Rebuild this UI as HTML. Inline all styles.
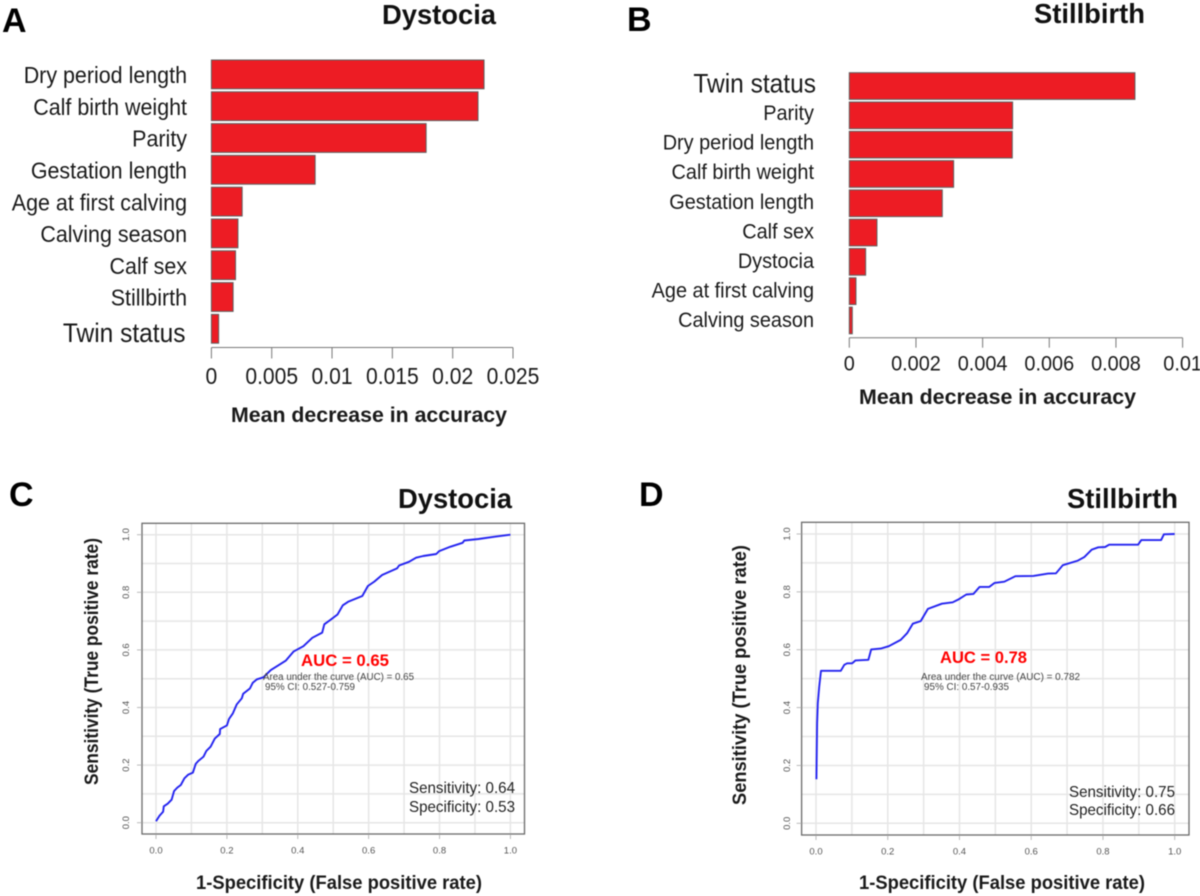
<!DOCTYPE html>
<html lang="en">
<head>
<meta charset="utf-8">
<title>Dystocia and stillbirth variable importance and ROC curves</title>
<style>
html,body{margin:0;padding:0;background:#fff;width:1200px;height:896px;overflow:hidden}
svg{display:block;filter:blur(0.4px)}
text{font-family:"Liberation Sans",Arial,sans-serif}
.letter{font-size:34px;font-weight:700;fill:#000}
.title{font-size:28px;font-weight:700;fill:#111}
.axt{font-size:21px;font-weight:700;fill:#1a1a1a}
.axr{font-size:19.5px;font-weight:700;fill:#1a1a1a}
.auc{font-size:17px;font-weight:700;fill:#ff0000}
.note{font-size:10px;fill:#444}
.stat{font-size:16px;fill:#222}
</style>
</head>
<body>
<svg id="figure" width="1200" height="896" viewBox="0 0 1200 896" xmlns="http://www.w3.org/2000/svg">
  <rect width="1200" height="896" fill="#fff"/>

  <text class="letter" x="2" y="32">A</text>
  <text class="title" x="382" y="24" textLength="114" lengthAdjust="spacingAndGlyphs">Dystocia</text>
  <g id="panelA"></g>
  <text class="axt" x="231" y="422" textLength="276" lengthAdjust="spacingAndGlyphs">Mean decrease in accuracy</text>

  <text class="letter" x="627" y="31">B</text>
  <text class="title" x="1034" y="23" textLength="111" lengthAdjust="spacingAndGlyphs">Stillbirth</text>
  <g id="panelB"></g>
  <text class="axt" x="859" y="404" textLength="277" lengthAdjust="spacingAndGlyphs">Mean decrease in accuracy</text>

  <text class="letter" x="9" y="506">C</text>
  <text class="title" x="398" y="508" textLength="114" lengthAdjust="spacingAndGlyphs">Dystocia</text>
  <g id="panelC"></g>
  <text class="axr" x="196" y="889" textLength="286" lengthAdjust="spacingAndGlyphs">1-Specificity (False positive rate)</text>
  <text class="axr" transform="translate(98 785) rotate(-90)" textLength="247" lengthAdjust="spacingAndGlyphs">Sensitivity (True positive rate)</text>
  <text class="auc" x="301" y="666" textLength="88" lengthAdjust="spacingAndGlyphs">AUC = 0.65</text>
  <text class="note" x="263" y="680" textLength="151" lengthAdjust="spacingAndGlyphs">Area under the curve (AUC) = 0.65</text>
  <text class="note" x="265" y="690" textLength="90" lengthAdjust="spacingAndGlyphs">95% CI: 0.527-0.759</text>
  <text class="stat" x="409" y="793" textLength="106" lengthAdjust="spacingAndGlyphs">Sensitivity: 0.64</text>
  <text class="stat" x="409" y="812" textLength="106" lengthAdjust="spacingAndGlyphs">Specificity: 0.53</text>

  <text class="letter" x="639" y="506">D</text>
  <text class="title" x="1067" y="508" textLength="111" lengthAdjust="spacingAndGlyphs">Stillbirth</text>
  <g id="panelD"></g>
  <text class="axr" x="859" y="889" textLength="286" lengthAdjust="spacingAndGlyphs">1-Specificity (False positive rate)</text>
  <text class="axr" transform="translate(746 805) rotate(-90)" textLength="260" lengthAdjust="spacingAndGlyphs">Sensitivity (True positive rate)</text>
  <text class="auc" x="940" y="663" textLength="87" lengthAdjust="spacingAndGlyphs">AUC = 0.78</text>
  <text class="note" x="921" y="680" textLength="159" lengthAdjust="spacingAndGlyphs">Area under the curve (AUC) = 0.782</text>
  <text class="note" x="924" y="690" textLength="85" lengthAdjust="spacingAndGlyphs">95% CI: 0.57-0.935</text>
  <text class="stat" x="1069" y="797" textLength="106" lengthAdjust="spacingAndGlyphs">Sensitivity: 0.75</text>
  <text class="stat" x="1069" y="815" textLength="106" lengthAdjust="spacingAndGlyphs">Specificity: 0.66</text>
</svg>

<script>
var dystociaCategories = ['Dry period length','Calf birth weight','Parity','Gestation length','Age at first calving','Calving season','Calf sex','Stillbirth','Twin status'];
var dystociaImportance = [0.0226,0.0221,0.0178,0.0086,0.00255,0.0022,0.002,0.0018,0.0006];
var dystociaTicks = [0,0.005,0.01,0.015,0.02,0.025];
var dystociaTickLabels = ['0','0.005','0.01','0.015','0.02','0.025'];

var stillbirthCategories = ['Twin status','Parity','Dry period length','Calf birth weight','Gestation length','Calf sex','Dystocia','Age at first calving','Calving season'];
var stillbirthImportance = [0.00857,0.0049,0.00489,0.00313,0.00279,0.00083,0.00049,0.0002,0.00009];
var stillbirthTicks = [0,0.002,0.004,0.006,0.008,0.01];
var stillbirthTickLabels = ['0','0.002','0.004','0.006','0.008','0.01'];

var rocTicks = [0,0.2,0.4,0.6,0.8,1];
var rocTickLabels = ['0.0','0.2','0.4','0.6','0.8','1.0'];
var rocGrid = [0,0.1,0.2,0.3,0.4,0.5,0.6,0.7,0.8,0.9,1];

var dystociaFpr = [0,0.01,0.02,0.022,0.033,0.044,0.051,0.06,0.07,0.08,0.091,0.104,0.112,0.12,0.134,0.142,0.154,0.166,0.18,0.181,0.2,0.206,0.217,0.228,0.242,0.246,0.265,0.273,0.285,0.303,0.324,0.346,0.366,0.388,0.416,0.441,0.469,0.475,0.492,0.512,0.527,0.542,0.582,0.598,0.616,0.638,0.68,0.686,0.714,0.734,0.754,0.791,0.799,0.83,0.865,0.87,0.91,0.956,1];
var dystociaTpr = [0.005,0.024,0.038,0.057,0.066,0.08,0.11,0.122,0.131,0.154,0.167,0.174,0.204,0.215,0.229,0.249,0.264,0.292,0.308,0.325,0.338,0.36,0.38,0.411,0.432,0.448,0.466,0.486,0.498,0.505,0.53,0.547,0.5625,0.594,0.613,0.642,0.66,0.689,0.704,0.723,0.755,0.767,0.787,0.822,0.837,0.86,0.883,0.893,0.906,0.92,0.926,0.933,0.943,0.958,0.972,0.98,0.985,0.993,1];

var stillbirthFpr = [0.001,0.003,0.005,0.009,0.014,0.069,0.079,0.087,0.101,0.11,0.146,0.154,0.18,0.203,0.236,0.254,0.27,0.292,0.312,0.351,0.381,0.399,0.419,0.439,0.456,0.483,0.498,0.525,0.556,0.606,0.647,0.669,0.688,0.73,0.748,0.769,0.787,0.806,0.817,0.898,0.907,0.962,0.97,1];
var stillbirthTpr = [0.152,0.346,0.415,0.472,0.527,0.527,0.548,0.553,0.553,0.563,0.565,0.601,0.604,0.612,0.634,0.657,0.69,0.699,0.741,0.759,0.764,0.775,0.791,0.793,0.817,0.817,0.831,0.835,0.854,0.855,0.863,0.864,0.892,0.908,0.92,0.946,0.954,0.955,0.963,0.963,0.979,0.979,0.999,1];

var SVGNS = 'http://www.w3.org/2000/svg';

function make(parent, tag, attrs, text) {
  var el = document.createElementNS(SVGNS, tag);
  for (var k in attrs) { el.setAttribute(k, attrs[k]); }
  if (text !== undefined) { el.textContent = text; }
  parent.appendChild(el);
  return el;
}

function linearScale(d0, d1, r0, r1) {
  return function (v) { return r0 + (v - d0) / (d1 - d0) * (r1 - r0); };
}

function drawBars(root, prefix, cats, values, ticks, tickLabels, g) {
  var x = linearScale(ticks[0], ticks[ticks.length - 1], g.x0, g.x1);
  var squeeze = 0.925;
  cats.forEach(function (cat, i) {
    var top = g.barTop + i * g.barStep;
    var bar = make(root, 'rect', {x: x(0), y: top, width: Math.max(x(values[i]) - x(0), 0), height: g.barH, fill: '#ed1c24', stroke: '#5f5f5f', 'stroke-width': 1});
    
    
    var big = cat === 'Twin status';
    var cy = big ? g.bigCy : g.labelFirst + (i - g.labelOffset) * g.labelStep;
    var fs = big ? 26.5 : g.labelSize;
    var lx = big ? g.bigRight : g.labelRight;
    var ly = cy + fs * 0.35;
    var lab = make(root, 'text', {transform: 'translate(' + lx + ' ' + ly + ') scale(' + squeeze + ' 1)', 'text-anchor': 'end', 'font-size': fs, fill: '#1a1a1a'}, cat);
    
    
  });
  var axis = make(root, 'line', {x1: x(ticks[0]), x2: x(ticks[ticks.length - 1]), y1: g.axisY, y2: g.axisY, stroke: '#777', 'stroke-width': 1});
  
  
  ticks.forEach(function (t, i) {
    var tick = make(root, 'line', {x1: x(t), x2: x(t), y1: g.axisY, y2: g.axisY + g.tickLen, stroke: '#777', 'stroke-width': 1});
    
    
    var lab = make(root, 'text', {transform: 'translate(' + x(t) + ' ' + g.tickLabelY + ') scale(' + squeeze + ' 1)', 'text-anchor': 'middle', 'font-size': g.tickSize, fill: '#1a1a1a'}, tickLabels[i]);
    
    
  });
}

function drawRoc(root, prefix, fpr, tpr, g) {
  var x = linearScale(0, 1, g.x0, g.x1);
  var y = linearScale(0, 1, g.y0, g.y1);
  rocGrid.forEach(function (v) {
    var gv = make(root, 'line', {x1: x(v), x2: x(v), y1: g.top, y2: g.bottom, stroke: '#e6e6e6', 'stroke-width': 1.5});
    
    
    var gh = make(root, 'line', {x1: g.left, x2: g.right, y1: y(v), y2: y(v), stroke: '#e6e6e6', 'stroke-width': 1.5});
    
    
  });
  var frame = make(root, 'rect', {x: g.left, y: g.top, width: g.right - g.left, height: g.bottom - g.top, fill: 'none', stroke: '#6a6a6a', 'stroke-width': 1.3});
  
  
  rocTicks.forEach(function (t, i) {
    var tx = make(root, 'line', {x1: x(t), x2: x(t), y1: g.bottom, y2: g.bottom + 5, stroke: '#aaa', 'stroke-width': 0.8});
    
    
    var lx = make(root, 'text', {x: x(t), y: g.xLabelY, 'text-anchor': 'middle', 'font-size': 9.5, fill: '#555'}, rocTickLabels[i]);
    
    
    var ty = make(root, 'line', {x1: g.left - 5, x2: g.left, y1: y(t), y2: y(t), stroke: '#aaa', 'stroke-width': 0.8});
    
    
    var ly = make(root, 'text', {transform: 'translate(' + g.yLabelX + ' ' + y(t) + ') rotate(-90)', 'text-anchor': 'middle', 'font-size': 9.5, fill: '#555'}, rocTickLabels[i]);
    
    
  });
  var pts = fpr.map(function (f, i) { return x(f).toFixed(1) + ',' + y(tpr[i]).toFixed(1); }).join(' ');
  var curve = make(root, 'polyline', {points: pts, fill: 'none', stroke: '#2424f0', 'stroke-width': 1.9, 'stroke-linejoin': 'round'});
  
  
}

drawBars(document.getElementById('panelA'), 'panel-a', dystociaCategories, dystociaImportance, dystociaTicks, dystociaTickLabels,
  {x0: 211.4, x1: 513, barTop: 60, barStep: 31.8, barH: 28.8, labelFirst: 75, labelStep: 31.8, labelOffset: 0, labelRight: 187, bigRight: 185.5, bigCy: 332.5, labelSize: 23.2, axisY: 347.5, tickLen: 11, tickLabelY: 384, tickSize: 22.8});

drawBars(document.getElementById('panelB'), 'panel-b', stillbirthCategories, stillbirthImportance, stillbirthTicks, stillbirthTickLabels,
  {x0: 849.3, x1: 1182.6, barTop: 72.7, barStep: 29.3, barH: 26.7, labelFirst: 112.5, labelStep: 29.6, labelOffset: 1, labelRight: 814, bigRight: 816, bigCy: 83, labelSize: 21.5, axisY: 337.7, tickLen: 10, tickLabelY: 370.5, tickSize: 21.5});

drawRoc(document.getElementById('panelC'), 'panel-c', dystociaFpr, dystociaTpr,
  {x0: 156, x1: 510.4, y0: 822.7, y1: 534.7, left: 142, right: 524.5, top: 523.3, bottom: 834, xLabelY: 853.5, yLabelX: 129});

drawRoc(document.getElementById('panelD'), 'panel-d', stillbirthFpr, stillbirthTpr,
  {x0: 816, x1: 1174.7, y0: 823.3, y1: 534, left: 801.6, right: 1189, top: 522.3, bottom: 835, xLabelY: 854.5, yLabelX: 790});
</script>
</body>
</html>
